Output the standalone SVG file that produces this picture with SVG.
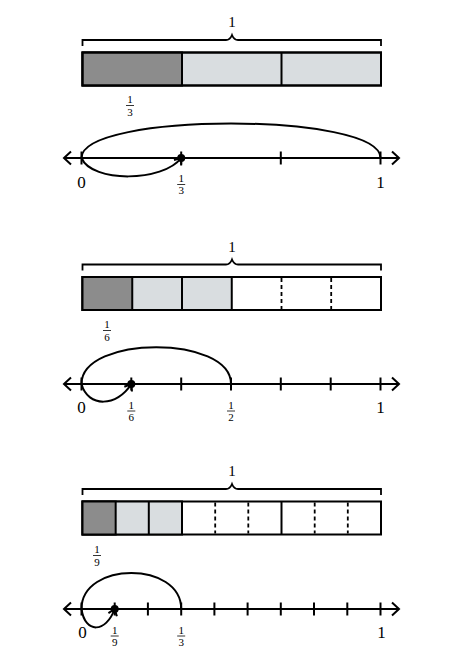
<svg xmlns="http://www.w3.org/2000/svg" width="465" height="659" viewBox="0 0 465 659">
<style>
.bg{fill:#ffffff}
.dark{fill:#8c8c8c;stroke:#000;stroke-width:2}
.light{fill:#d9dde0;stroke:#000;stroke-width:2}
.empty{fill:#ffffff;stroke:#000;stroke-width:2}
.div{stroke:#000;stroke-width:2;fill:none}
.dash{stroke:#000;stroke-width:1.8;stroke-dasharray:4,3;fill:none}
.brace{stroke:#000;stroke-width:1.8;fill:none}
.nl{stroke:#000;stroke-width:2;fill:none}
.tick{stroke:#000;stroke-width:2}
.arc{stroke:#000;stroke-width:2;fill:none}
.fbar{stroke:#000;stroke-width:0.8}
.t1{font-family:"Liberation Serif","DejaVu Serif",serif;font-size:15px;text-anchor:middle;fill:#000}
.tl{font-family:"Liberation Serif","DejaVu Serif",serif;font-size:17px;text-anchor:middle;fill:#000}
.tf{font-family:"Liberation Serif","DejaVu Serif",serif;font-size:11px;text-anchor:middle;fill:#000}
</style>
<defs>
<marker id="end" markerUnits="userSpaceOnUse" viewBox="-9 -8 11 16" markerWidth="11" markerHeight="16" refX="0" refY="0" orient="auto-start-reverse">
<path d="M-7,-6.5 L0,0 L-7,6.5" fill="none" stroke="#000" stroke-width="2"/>
</marker>
<marker id="head" markerUnits="userSpaceOnUse" viewBox="-8 -6 10 12" markerWidth="10" markerHeight="12" refX="0" refY="0" orient="auto">
<path d="M-6,-4.5 L0,0 L-6,4.5" fill="none" stroke="#000" stroke-width="2"/>
</marker>
</defs>
<rect class="bg" x="0" y="0" width="465" height="659"/>

<!-- Panel 1 -->
<g id="panel1-whole">
<path class="brace" d="M82.5,46 L82.5,40 L226,40 Q230,40 232,35 Q234,40 238,40 L381,40 L381,46"/>
<text class="t1" x="232" y="27">1</text>
</g>
<g id="panel1-bar">
<rect class="light" x="82.5" y="52.5" width="298.5" height="33"/>
<rect class="dark" x="82.5" y="52.5" width="99.5" height="33"/>
<line class="div" x1="281.5" y1="52.5" x2="281.5" y2="85.5"/>
<rect class="empty" x="82.5" y="52.5" width="298.5" height="33" style="fill:none"/>
</g>
<g id="panel1-barlabel">
<text class="tf" x="130" y="103">1</text>
<line class="fbar" x1="126" y1="105.5" x2="134" y2="105.5"/>
<text class="tf" x="130" y="115.5">3</text>
</g>
<g id="panel1-numberline">
<line class="nl" x1="64" y1="158" x2="399" y2="158" marker-start="url(#end)" marker-end="url(#end)"/>
<line class="tick" x1="81.5" y1="151.5" x2="81.5" y2="164.5"/>
<line class="tick" x1="181.2" y1="151.5" x2="181.2" y2="164.5"/>
<line class="tick" x1="280.8" y1="151.5" x2="280.8" y2="164.5"/>
<line class="tick" x1="380.5" y1="151.5" x2="380.5" y2="164.5"/>
<circle cx="181.2" cy="158" r="4" fill="#000"/>
<text class="tl" x="81.5" y="188">0</text>
<text class="tl" x="380.5" y="188">1</text>
<text class="tf" x="181.2" y="182">1</text>
<line class="fbar" x1="177.2" y1="184.5" x2="185.2" y2="184.5"/>
<text class="tf" x="181.2" y="194">3</text>
</g>

<!-- Panel 2 -->
<g id="panel2-whole">
<path class="brace" d="M82.5,270.5 L82.5,264.5 L226,264.5 Q230,264.5 232,259.5 Q234,264.5 238,264.5 L381,264.5 L381,270.5"/>
<text class="t1" x="232" y="251.5">1</text>
</g>
<g id="panel2-bar">
<rect class="empty" x="82.5" y="277" width="298.5" height="33"/>
<rect class="light" x="82.5" y="277" width="149.25" height="33"/>
<rect class="dark" x="82.5" y="277" width="49.75" height="33"/>
<line class="div" x1="182" y1="277" x2="182" y2="310"/>
<line class="dash" x1="281.5" y1="278" x2="281.5" y2="309"/>
<line class="dash" x1="331.2" y1="278" x2="331.2" y2="309"/>
</g>
<g id="panel2-barlabel">
<text class="tf" x="107" y="328">1</text>
<line class="fbar" x1="103" y1="330.5" x2="111" y2="330.5"/>
<text class="tf" x="107" y="340.5">6</text>
</g>
<g id="panel2-numberline">
<line class="nl" x1="64" y1="384" x2="399" y2="384" marker-start="url(#end)" marker-end="url(#end)"/>
<line class="tick" x1="81.5" y1="377.5" x2="81.5" y2="390.5"/>
<line class="tick" x1="131.3" y1="377.5" x2="131.3" y2="390.5"/>
<line class="tick" x1="181.2" y1="377.5" x2="181.2" y2="390.5"/>
<line class="tick" x1="231" y1="377.5" x2="231" y2="390.5"/>
<line class="tick" x1="280.8" y1="377.5" x2="280.8" y2="390.5"/>
<line class="tick" x1="330.7" y1="377.5" x2="330.7" y2="390.5"/>
<line class="tick" x1="380.5" y1="377.5" x2="380.5" y2="390.5"/>
<circle cx="131.3" cy="384" r="4" fill="#000"/>
<text class="tl" x="81.5" y="413">0</text>
<text class="tl" x="380.5" y="413">1</text>
<text class="tf" x="131.3" y="408.5">1</text>
<line class="fbar" x1="127.3" y1="411" x2="135.3" y2="411"/>
<text class="tf" x="131.3" y="420.5">6</text>
<text class="tf" x="231" y="408.5">1</text>
<line class="fbar" x1="227" y1="411" x2="235" y2="411"/>
<text class="tf" x="231" y="420.5">2</text>
</g>

<!-- Panel 3 -->
<g id="panel3-whole">
<path class="brace" d="M82.5,495 L82.5,489 L226,489 Q230,489 232,484 Q234,489 238,489 L381,489 L381,495"/>
<text class="t1" x="232" y="476">1</text>
</g>
<g id="panel3-bar">
<rect class="empty" x="82.5" y="501.5" width="298.5" height="33"/>
<rect class="light" x="82.5" y="501.5" width="99.5" height="33"/>
<rect class="dark" x="82.5" y="501.5" width="33.17" height="33"/>
<line class="div" x1="148.8" y1="501.5" x2="148.8" y2="534.5"/>
<line class="div" x1="281.5" y1="501.5" x2="281.5" y2="534.5"/>
<line class="dash" x1="215.2" y1="502.5" x2="215.2" y2="533.5"/>
<line class="dash" x1="248.3" y1="502.5" x2="248.3" y2="533.5"/>
<line class="dash" x1="314.7" y1="502.5" x2="314.7" y2="533.5"/>
<line class="dash" x1="347.8" y1="502.5" x2="347.8" y2="533.5"/>
</g>
<g id="panel3-barlabel">
<text class="tf" x="97" y="553">1</text>
<line class="fbar" x1="93" y1="555.5" x2="101" y2="555.5"/>
<text class="tf" x="97" y="565.5">9</text>
</g>
<g id="panel3-numberline">
<line class="nl" x1="64" y1="609" x2="399" y2="609" marker-start="url(#end)" marker-end="url(#end)"/>
<line class="tick" x1="81.5" y1="602.5" x2="81.5" y2="615.5"/>
<line class="tick" x1="114.7" y1="602.5" x2="114.7" y2="615.5"/>
<line class="tick" x1="147.9" y1="602.5" x2="147.9" y2="615.5"/>
<line class="tick" x1="181.2" y1="602.5" x2="181.2" y2="615.5"/>
<line class="tick" x1="214.4" y1="602.5" x2="214.4" y2="615.5"/>
<line class="tick" x1="247.6" y1="602.5" x2="247.6" y2="615.5"/>
<line class="tick" x1="280.8" y1="602.5" x2="280.8" y2="615.5"/>
<line class="tick" x1="314" y1="602.5" x2="314" y2="615.5"/>
<line class="tick" x1="347.3" y1="602.5" x2="347.3" y2="615.5"/>
<line class="tick" x1="380.5" y1="602.5" x2="380.5" y2="615.5"/>
<circle cx="114.7" cy="609" r="4" fill="#000"/>
<text class="tl" x="82.5" y="638">0</text>
<text class="tl" x="381.5" y="638">1</text>
<text class="tf" x="114.7" y="633.5">1</text>
<line class="fbar" x1="110.7" y1="636" x2="118.7" y2="636"/>
<text class="tf" x="114.7" y="645.5">9</text>
<text class="tf" x="181.2" y="633.5">1</text>
<line class="fbar" x1="177.2" y1="636" x2="185.2" y2="636"/>
<text class="tf" x="181.2" y="645.5">3</text>
</g>

<g id="connectors">
<path class="arc" d="M81.5,158 C81.5,112 380.5,112 380.5,158"/>
<path class="arc" d="M81.5,158 C92,183 163,182 181.2,158" marker-end="url(#head)"/>
<path class="arc" d="M81.5,384 C81.5,335 231,335 231,384"/>
<path class="arc" d="M81.5,384 C88,408 117,407 131.3,384" marker-end="url(#head)"/>
<path class="arc" d="M81.5,609 C81.5,561 181.2,561 181.2,609"/>
<path class="arc" d="M81.5,609 C85,634 106,633 114.7,609" marker-end="url(#head)"/>
</g>
</svg>
